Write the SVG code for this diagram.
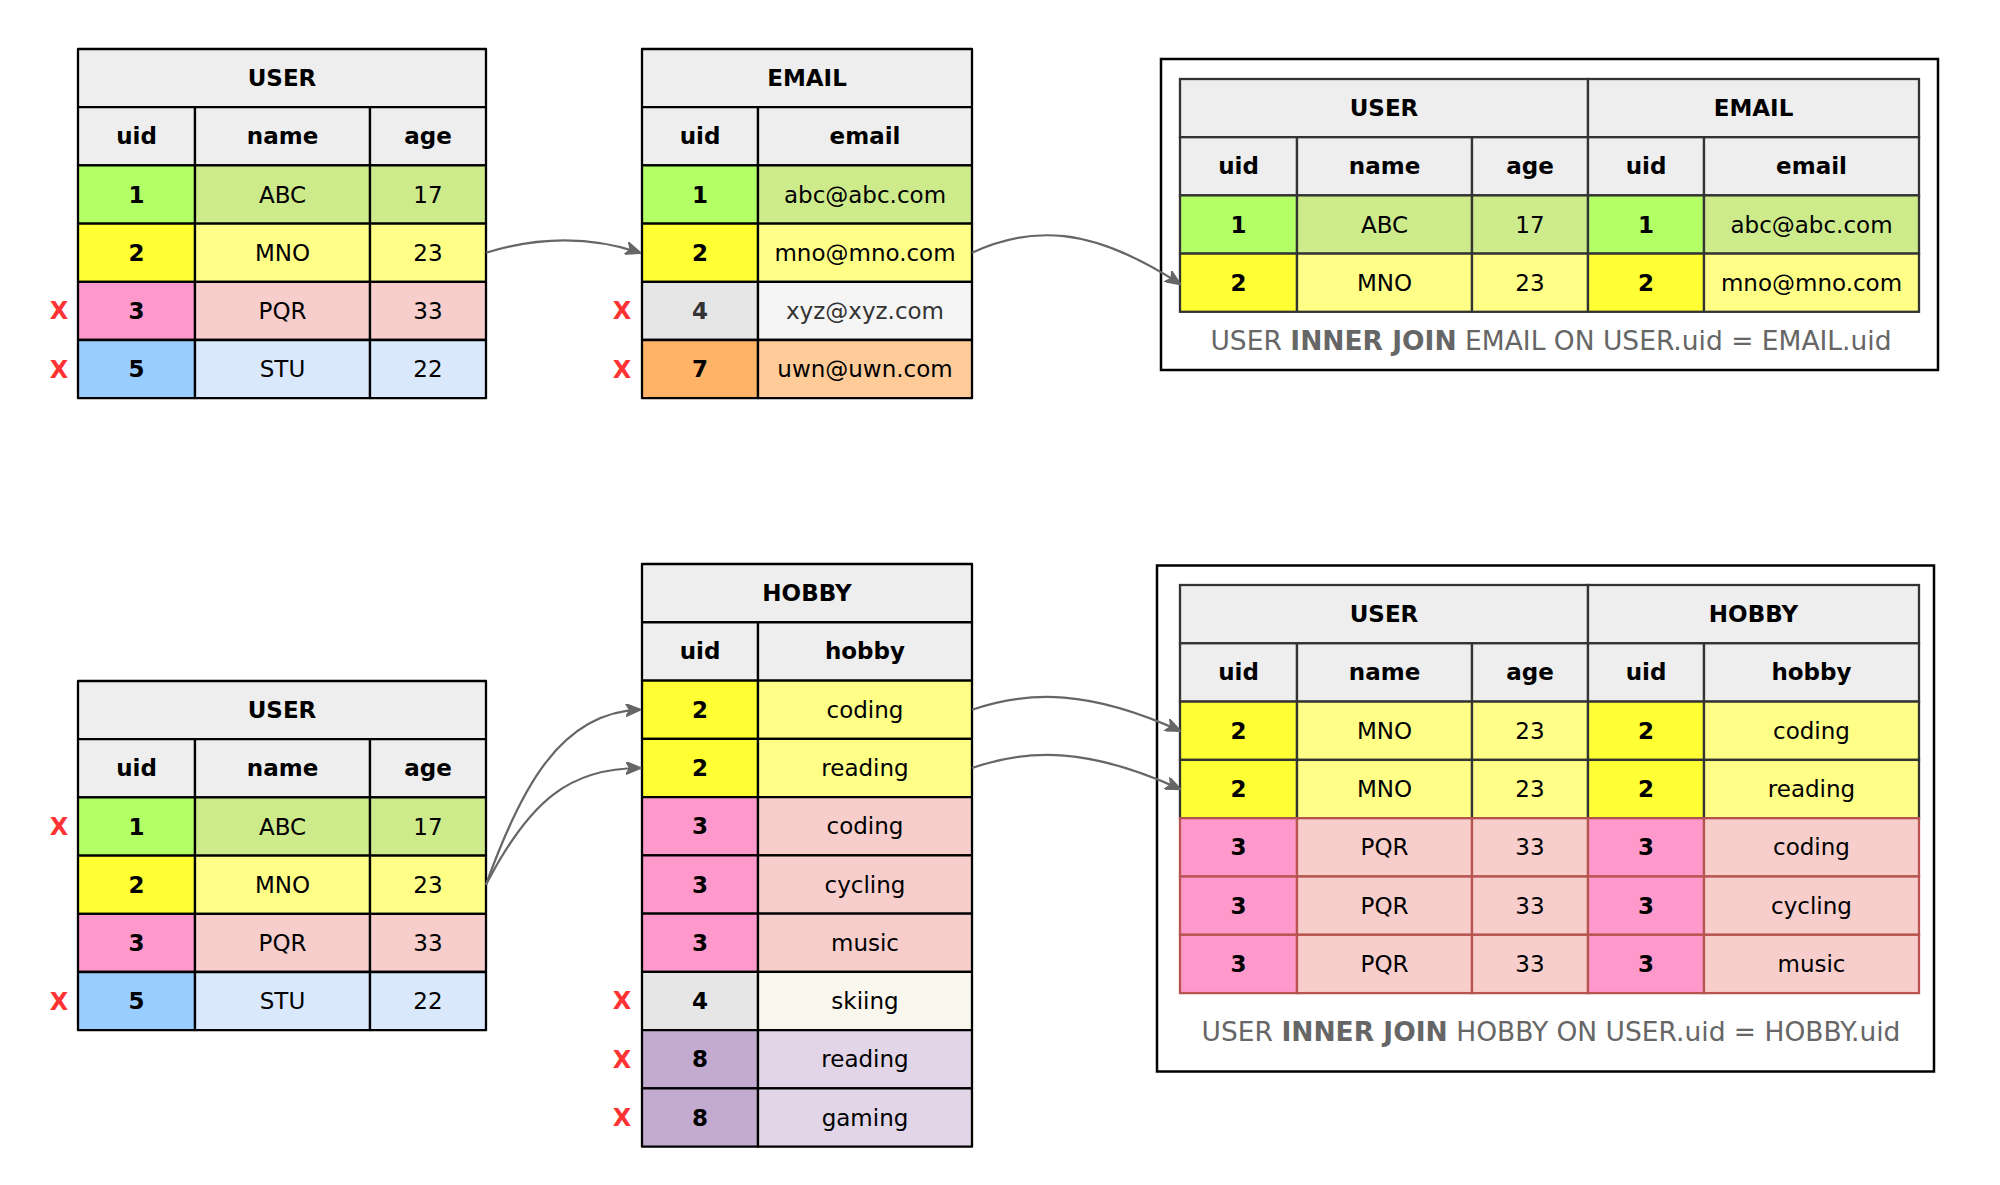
<svg xmlns="http://www.w3.org/2000/svg" width="2000" height="1185" viewBox="0 0 2000 1185">
<defs>
<style>
rect.c{stroke:#000;stroke-width:2.3;stroke-linejoin:round}
rect.r{stroke:#333;stroke-width:2.3}
rect.rp{stroke:#B85450;stroke-width:2.3}
.hd{fill:#EEEEEE}
.g1{fill:#B3FF66}.g2{fill:#CDEB8B}
.y1{fill:#FFFF33}.y2{fill:#FFFF88}
.p1{fill:#FF99CC}.p2{fill:#F8CECC}
.b1{fill:#99CCFF}.b2{fill:#DAE8FC}
.e1{fill:#E6E6E6}.e2{fill:#F5F5F5}.s2{fill:#F9F7ED}
.o1{fill:#FFB366}.o2{fill:#FFCC99}
.v1{fill:#C3ABD0}.v2{fill:#E1D5E7}
.box{fill:#FFFFFF;stroke:#000;stroke-width:2.5}
text{font-family:"DejaVu Sans",Verdana,sans-serif;font-size:23px;text-anchor:middle;fill:#000}
text.b{font-weight:bold}
text.d{fill:#333}
text.x{fill:#FF3333;font-weight:bold;font-size:24px}
text.cap{fill:#666;font-size:26.5px}
.conn path{fill:none;stroke:#666;stroke-width:2.2}
</style>
<marker id="arr" viewBox="0 0 12 10" refX="11" refY="5" markerWidth="16" markerHeight="13" markerUnits="userSpaceOnUse" orient="auto">
<path d="M0,0 L12,5 L0,10 L3,5 Z" fill="#666" stroke="#666" stroke-width="1"/>
</marker>
</defs>
<rect width="2000" height="1185" fill="#FFFFFF"/>

<g id="user-top">
<rect class="c hd" x="78" y="49" width="408" height="58.2"/>
<text class="b" x="282" y="86.1">USER</text>
<rect class="c hd" x="78" y="107.2" width="117" height="58.2"/>
<rect class="c hd" x="195" y="107.2" width="175" height="58.2"/>
<rect class="c hd" x="370" y="107.2" width="116" height="58.2"/>
<text class="b" x="136.5" y="144.3">uid</text><text class="b" x="282.5" y="144.3">name</text><text class="b" x="428" y="144.3">age</text>
<rect class="c g1" x="78" y="165.4" width="117" height="58.2"/>
<rect class="c g2" x="195" y="165.4" width="175" height="58.2"/>
<rect class="c g2" x="370" y="165.4" width="116" height="58.2"/>
<text class="b" x="136.5" y="202.5">1</text><text x="282.5" y="202.5">ABC</text><text x="428" y="202.5">17</text>
<rect class="c y1" x="78" y="223.6" width="117" height="58.2"/>
<rect class="c y2" x="195" y="223.6" width="175" height="58.2"/>
<rect class="c y2" x="370" y="223.6" width="116" height="58.2"/>
<text class="b" x="136.5" y="260.7">2</text><text x="282.5" y="260.7">MNO</text><text x="428" y="260.7">23</text>
<rect class="c p1" x="78" y="281.8" width="117" height="58.2"/>
<rect class="c p2" x="195" y="281.8" width="175" height="58.2"/>
<rect class="c p2" x="370" y="281.8" width="116" height="58.2"/>
<text class="b" x="136.5" y="318.9">3</text><text x="282.5" y="318.9">PQR</text><text x="428" y="318.9">33</text>
<rect class="c b1" x="78" y="340" width="117" height="58.2"/>
<rect class="c b2" x="195" y="340" width="175" height="58.2"/>
<rect class="c b2" x="370" y="340" width="116" height="58.2"/>
<text class="b" x="136.5" y="377.1">5</text><text x="282.5" y="377.1">STU</text><text x="428" y="377.1">22</text>
<text class="x" x="59" y="319.3">X</text><text class="x" x="59" y="377.5">X</text>
</g>

<g id="email">
<rect class="c hd" x="642" y="49" width="330" height="58.2"/>
<text class="b" x="807" y="86.1">EMAIL</text>
<rect class="c hd" x="642" y="107.2" width="116" height="58.2"/>
<rect class="c hd" x="758" y="107.2" width="214" height="58.2"/>
<text class="b" x="700" y="144.3">uid</text><text class="b" x="865" y="144.3">email</text>
<rect class="c g1" x="642" y="165.4" width="116" height="58.2"/>
<rect class="c g2" x="758" y="165.4" width="214" height="58.2"/>
<text class="b" x="700" y="202.5">1</text><text x="865" y="202.5">abc@abc.com</text>
<rect class="c y1" x="642" y="223.6" width="116" height="58.2"/>
<rect class="c y2" x="758" y="223.6" width="214" height="58.2"/>
<text class="b" x="700" y="260.7">2</text><text x="865" y="260.7">mno@mno.com</text>
<rect class="c e1" x="642" y="281.8" width="116" height="58.2"/>
<rect class="c e2" x="758" y="281.8" width="214" height="58.2"/>
<text class="b d" x="700" y="318.9">4</text><text class="d" x="865" y="318.9">xyz@xyz.com</text>
<rect class="c o1" x="642" y="340" width="116" height="58.2"/>
<rect class="c o2" x="758" y="340" width="214" height="58.2"/>
<text class="b" x="700" y="377.1">7</text><text x="865" y="377.1">uwn@uwn.com</text>
<text class="x" x="622" y="319.3">X</text><text class="x" x="622" y="377.5">X</text>
</g>

<g id="result-email">
<rect class="box" x="1161" y="59" width="777" height="311"/>
<rect class="r hd" x="1180" y="79" width="408" height="58.2"/>
<rect class="r hd" x="1588" y="79" width="331" height="58.2"/>
<text class="b" x="1384" y="116.1">USER</text><text class="b" x="1753.5" y="116.1">EMAIL</text>
<rect class="r hd" x="1180" y="137.2" width="117" height="58.2"/>
<rect class="r hd" x="1297" y="137.2" width="175" height="58.2"/>
<rect class="r hd" x="1472" y="137.2" width="116" height="58.2"/>
<rect class="r hd" x="1588" y="137.2" width="116" height="58.2"/>
<rect class="r hd" x="1704" y="137.2" width="215" height="58.2"/>
<text class="b" x="1238.5" y="174.3">uid</text><text class="b" x="1384.5" y="174.3">name</text><text class="b" x="1530" y="174.3">age</text><text class="b" x="1646" y="174.3">uid</text><text class="b" x="1811.5" y="174.3">email</text>
<rect class="r g1" x="1180" y="195.4" width="117" height="58.2"/>
<rect class="r g2" x="1297" y="195.4" width="175" height="58.2"/>
<rect class="r g2" x="1472" y="195.4" width="116" height="58.2"/>
<rect class="r g1" x="1588" y="195.4" width="116" height="58.2"/>
<rect class="r g2" x="1704" y="195.4" width="215" height="58.2"/>
<text class="b" x="1238.5" y="232.5">1</text><text x="1384.5" y="232.5">ABC</text><text x="1530" y="232.5">17</text><text class="b" x="1646" y="232.5">1</text><text x="1811.5" y="232.5">abc@abc.com</text>
<rect class="r y1" x="1180" y="253.6" width="117" height="58.2"/>
<rect class="r y2" x="1297" y="253.6" width="175" height="58.2"/>
<rect class="r y2" x="1472" y="253.6" width="116" height="58.2"/>
<rect class="r y1" x="1588" y="253.6" width="116" height="58.2"/>
<rect class="r y2" x="1704" y="253.6" width="215" height="58.2"/>
<text class="b" x="1238.5" y="290.7">2</text><text x="1384.5" y="290.7">MNO</text><text x="1530" y="290.7">23</text><text class="b" x="1646" y="290.7">2</text><text x="1811.5" y="290.7">mno@mno.com</text>
<text class="cap" x="1551" y="350">USER <tspan font-weight="bold">INNER JOIN</tspan> EMAIL ON USER.uid = EMAIL.uid</text>
</g>

<g id="user-bottom">
<rect class="c hd" x="78" y="681" width="408" height="58.2"/>
<text class="b" x="282" y="718.1">USER</text>
<rect class="c hd" x="78" y="739.2" width="117" height="58.2"/>
<rect class="c hd" x="195" y="739.2" width="175" height="58.2"/>
<rect class="c hd" x="370" y="739.2" width="116" height="58.2"/>
<text class="b" x="136.5" y="776.3">uid</text><text class="b" x="282.5" y="776.3">name</text><text class="b" x="428" y="776.3">age</text>
<rect class="c g1" x="78" y="797.4" width="117" height="58.2"/>
<rect class="c g2" x="195" y="797.4" width="175" height="58.2"/>
<rect class="c g2" x="370" y="797.4" width="116" height="58.2"/>
<text class="b" x="136.5" y="834.5">1</text><text x="282.5" y="834.5">ABC</text><text x="428" y="834.5">17</text>
<rect class="c y1" x="78" y="855.6" width="117" height="58.2"/>
<rect class="c y2" x="195" y="855.6" width="175" height="58.2"/>
<rect class="c y2" x="370" y="855.6" width="116" height="58.2"/>
<text class="b" x="136.5" y="892.7">2</text><text x="282.5" y="892.7">MNO</text><text x="428" y="892.7">23</text>
<rect class="c p1" x="78" y="913.8" width="117" height="58.2"/>
<rect class="c p2" x="195" y="913.8" width="175" height="58.2"/>
<rect class="c p2" x="370" y="913.8" width="116" height="58.2"/>
<text class="b" x="136.5" y="950.9">3</text><text x="282.5" y="950.9">PQR</text><text x="428" y="950.9">33</text>
<rect class="c b1" x="78" y="972" width="117" height="58.2"/>
<rect class="c b2" x="195" y="972" width="175" height="58.2"/>
<rect class="c b2" x="370" y="972" width="116" height="58.2"/>
<text class="b" x="136.5" y="1009.1">5</text><text x="282.5" y="1009.1">STU</text><text x="428" y="1009.1">22</text>
<text class="x" x="59" y="834.9">X</text><text class="x" x="59" y="1009.5">X</text>
</g>

<g id="hobby">
<rect class="c hd" x="642" y="564" width="330" height="58.27"/>
<text class="b" x="807" y="601.1">HOBBY</text>
<rect class="c hd" x="642" y="622.27" width="116" height="58.27"/>
<rect class="c hd" x="758" y="622.27" width="214" height="58.27"/>
<text class="b" x="700" y="659.4">uid</text><text class="b" x="865" y="659.4">hobby</text>
<rect class="c y1" x="642" y="680.54" width="116" height="58.27"/>
<rect class="c y2" x="758" y="680.54" width="214" height="58.27"/>
<text class="b" x="700" y="717.6">2</text><text x="865" y="717.6">coding</text>
<rect class="c y1" x="642" y="738.81" width="116" height="58.27"/>
<rect class="c y2" x="758" y="738.81" width="214" height="58.27"/>
<text class="b" x="700" y="775.9">2</text><text x="865" y="775.9">reading</text>
<rect class="c p1" x="642" y="797.08" width="116" height="58.27"/>
<rect class="c p2" x="758" y="797.08" width="214" height="58.27"/>
<text class="b" x="700" y="834.2">3</text><text x="865" y="834.2">coding</text>
<rect class="c p1" x="642" y="855.35" width="116" height="58.27"/>
<rect class="c p2" x="758" y="855.35" width="214" height="58.27"/>
<text class="b" x="700" y="892.5">3</text><text x="865" y="892.5">cycling</text>
<rect class="c p1" x="642" y="913.62" width="116" height="58.27"/>
<rect class="c p2" x="758" y="913.62" width="214" height="58.27"/>
<text class="b" x="700" y="950.7">3</text><text x="865" y="950.7">music</text>
<rect class="c e1" x="642" y="971.89" width="116" height="58.27"/>
<rect class="c s2" x="758" y="971.89" width="214" height="58.27"/>
<text class="b" x="700" y="1009">4</text><text x="865" y="1009">skiing</text>
<rect class="c v1" x="642" y="1030.16" width="116" height="58.27"/>
<rect class="c v2" x="758" y="1030.16" width="214" height="58.27"/>
<text class="b" x="700" y="1067.3">8</text><text x="865" y="1067.3">reading</text>
<rect class="c v1" x="642" y="1088.43" width="116" height="58.27"/>
<rect class="c v2" x="758" y="1088.43" width="214" height="58.27"/>
<text class="b" x="700" y="1125.5">8</text><text x="865" y="1125.5">gaming</text>
<text class="x" x="622" y="1009.4">X</text><text class="x" x="622" y="1067.7">X</text><text class="x" x="622" y="1125.9">X</text>
</g>

<g id="result-hobby">
<rect class="box" x="1157" y="565.5" width="777" height="506"/>
<rect class="r hd" x="1180" y="585" width="408" height="58.3"/>
<rect class="r hd" x="1588" y="585" width="331" height="58.3"/>
<text class="b" x="1384" y="622.1">USER</text><text class="b" x="1753.5" y="622.1">HOBBY</text>
<rect class="r hd" x="1180" y="643.3" width="117" height="58.3"/>
<rect class="r hd" x="1297" y="643.3" width="175" height="58.3"/>
<rect class="r hd" x="1472" y="643.3" width="116" height="58.3"/>
<rect class="r hd" x="1588" y="643.3" width="116" height="58.3"/>
<rect class="r hd" x="1704" y="643.3" width="215" height="58.3"/>
<text class="b" x="1238.5" y="680.4">uid</text><text class="b" x="1384.5" y="680.4">name</text><text class="b" x="1530" y="680.4">age</text><text class="b" x="1646" y="680.4">uid</text><text class="b" x="1811.5" y="680.4">hobby</text>
<rect class="r y1" x="1180" y="701.6" width="117" height="58.3"/>
<rect class="r y2" x="1297" y="701.6" width="175" height="58.3"/>
<rect class="r y2" x="1472" y="701.6" width="116" height="58.3"/>
<rect class="r y1" x="1588" y="701.6" width="116" height="58.3"/>
<rect class="r y2" x="1704" y="701.6" width="215" height="58.3"/>
<text class="b" x="1238.5" y="738.7">2</text><text x="1384.5" y="738.7">MNO</text><text x="1530" y="738.7">23</text><text class="b" x="1646" y="738.7">2</text><text x="1811.5" y="738.7">coding</text>
<rect class="r y1" x="1180" y="759.9" width="117" height="58.3"/>
<rect class="r y2" x="1297" y="759.9" width="175" height="58.3"/>
<rect class="r y2" x="1472" y="759.9" width="116" height="58.3"/>
<rect class="r y1" x="1588" y="759.9" width="116" height="58.3"/>
<rect class="r y2" x="1704" y="759.9" width="215" height="58.3"/>
<text class="b" x="1238.5" y="797">2</text><text x="1384.5" y="797">MNO</text><text x="1530" y="797">23</text><text class="b" x="1646" y="797">2</text><text x="1811.5" y="797">reading</text>
<rect class="rp p1" x="1180" y="818.2" width="117" height="58.3"/>
<rect class="rp p2" x="1297" y="818.2" width="175" height="58.3"/>
<rect class="rp p2" x="1472" y="818.2" width="116" height="58.3"/>
<rect class="rp p1" x="1588" y="818.2" width="116" height="58.3"/>
<rect class="rp p2" x="1704" y="818.2" width="215" height="58.3"/>
<text class="b" x="1238.5" y="855.3">3</text><text x="1384.5" y="855.3">PQR</text><text x="1530" y="855.3">33</text><text class="b" x="1646" y="855.3">3</text><text x="1811.5" y="855.3">coding</text>
<rect class="rp p1" x="1180" y="876.5" width="117" height="58.3"/>
<rect class="rp p2" x="1297" y="876.5" width="175" height="58.3"/>
<rect class="rp p2" x="1472" y="876.5" width="116" height="58.3"/>
<rect class="rp p1" x="1588" y="876.5" width="116" height="58.3"/>
<rect class="rp p2" x="1704" y="876.5" width="215" height="58.3"/>
<text class="b" x="1238.5" y="913.6">3</text><text x="1384.5" y="913.6">PQR</text><text x="1530" y="913.6">33</text><text class="b" x="1646" y="913.6">3</text><text x="1811.5" y="913.6">cycling</text>
<rect class="rp p1" x="1180" y="934.8" width="117" height="58.3"/>
<rect class="rp p2" x="1297" y="934.8" width="175" height="58.3"/>
<rect class="rp p2" x="1472" y="934.8" width="116" height="58.3"/>
<rect class="rp p1" x="1588" y="934.8" width="116" height="58.3"/>
<rect class="rp p2" x="1704" y="934.8" width="215" height="58.3"/>
<text class="b" x="1238.5" y="971.9">3</text><text x="1384.5" y="971.9">PQR</text><text x="1530" y="971.9">33</text><text class="b" x="1646" y="971.9">3</text><text x="1811.5" y="971.9">music</text>
<text class="cap" x="1551" y="1041">USER <tspan font-weight="bold">INNER JOIN</tspan> HOBBY ON USER.uid = HOBBY.uid</text>
</g>

<g id="connectors" class="conn">
<path d="M486,252.7 C540,236 590,236 640,252.7" marker-end="url(#arr)"/>
<path d="M972,252.7 C1030,226 1090,225 1180,284" marker-end="url(#arr)"/>
<path d="M486,884.7 C520,790 560,712 640,709.7" marker-end="url(#arr)"/>
<path d="M486,884.7 C530,800 570,768 640,768" marker-end="url(#arr)"/>
<path d="M972,709.7 C1030,690 1090,690 1180,730.75" marker-end="url(#arr)"/>
<path d="M972,768 C1030,748 1090,748 1180,789" marker-end="url(#arr)"/>
</g>
</svg>
